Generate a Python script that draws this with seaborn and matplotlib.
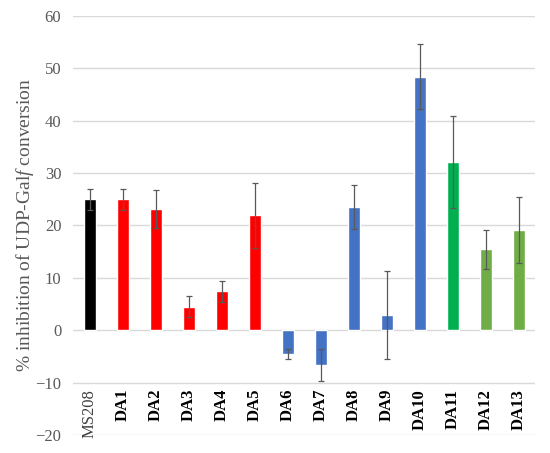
import matplotlib
matplotlib.use("Agg")
import matplotlib.pyplot as plt
import seaborn as sns
import numpy as np

names = ['MS208', 'DA1', 'DA2', 'DA3', 'DA4', 'DA5', 'DA6', 'DA7',
         'DA8', 'DA9', 'DA10', 'DA11', 'DA12', 'DA13']
values = [25.0, 25.0, 23.1, 4.5, 7.4, 21.9, -4.6, -6.7,
          23.5, 2.8, 48.4, 32.1, 15.4, 19.1]
errors = [2.0, 2.0, 3.6, 2.0, 2.0, 6.2, 1.0, 3.1,
          4.2, 8.4, 6.2, 8.7, 3.7, 6.3]
colors = ['#000000'] + ['#FF0000'] * 5 + ['#4472C4'] * 5 + ['#00B050'] + ['#70AD47'] * 2

sns.set_style('white')
plt.rcParams['font.family'] = ['Liberation Serif', 'DejaVu Serif']
plt.rcParams['mathtext.fontset'] = 'custom'
plt.rcParams['mathtext.rm'] = 'Liberation Serif'
plt.rcParams['mathtext.it'] = 'Liberation Serif:italic'

fig = plt.figure(figsize=(5.5, 4.53), dpi=100)
ax = fig.add_axes([0.133, 0.040, 0.840, 0.925])

sns.barplot(x=names, y=values, hue=names, palette=colors, legend=False,
            width=0.36, saturation=1, ax=ax, zorder=3)
ax.errorbar(np.arange(len(names)), values, yerr=errors, fmt='none',
            ecolor='#595959', elinewidth=0.9, capsize=2.5, capthick=0.9, zorder=4)

ax.set_ylim(-20, 60)
ax.set_xlim(-0.5, len(names) - 0.5)
ax.set_yticks(range(-20, 61, 10))
ax.yaxis.grid(True, color='#D9D9D9', linewidth=1, zorder=0)
ax.set_axisbelow(True)
for s in ax.spines.values():
    s.set_visible(False)
ax.tick_params(axis='y', length=0, labelsize=12, labelcolor='#595959', pad=8.5)
ax.set_xticks([])
ax.set_xlabel('')

for i, n in enumerate(names):
    ax.text(i, -11.2, n, rotation=90, ha='center', va='top', fontsize=12,
            fontweight='normal' if n == 'MS208' else 'bold',
            color='#404040' if n == 'MS208' else 'black')

ax.set_ylabel('% inhibition of UDP-Gal$\\mathit{f}$ conversion', fontsize=14,
              color='#595959')
ax.yaxis.set_label_coords(-0.08, 0.5)

fig.savefig('out.png', dpi=100)
